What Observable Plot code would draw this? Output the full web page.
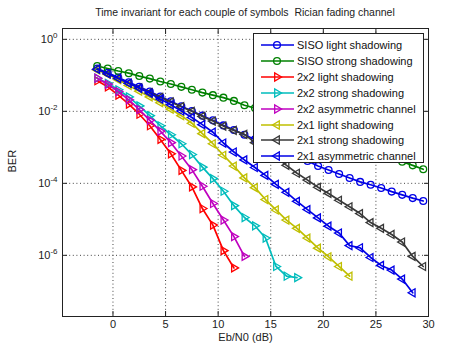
<!DOCTYPE html>
<html><head><meta charset="utf-8">
<script src="https://cdn.jsdelivr.net/npm/d3@7"></script>
<script src="https://cdn.jsdelivr.net/npm/@observablehq/plot@0.6"></script>
<style>
body{margin:0;background:#fff;font-family:"Liberation Sans",Arial,sans-serif;}
#wrap{position:relative;width:474px;height:355px;overflow:hidden;}
#title{position:absolute;top:6px;left:0;width:490px;text-align:center;font-size:10.5px;color:#222;white-space:pre;}
#legend{position:absolute;left:253px;top:33px;width:169px;height:128px;border:1px solid #222;background:#fff;}
.row{position:absolute;left:0;height:16px;width:169px;}
.row svg{position:absolute;left:5px;top:0;}
.row span{position:absolute;left:43px;top:0;line-height:16px;font-size:11px;color:#111;white-space:nowrap;}
</style></head><body>
<div id="wrap"><div id="chart"></div><div id="title">Time invariant for each couple of symbols  Rician fading channel</div><div id="legend"></div></div>
<script>
// Eb/N0 (dB) sample points
const ebn0 = [-1.5,-0.5,0.5,1.5,2.5,3.5,4.5,5.5,6.5,7.5,8.5,9.5,10.5,11.5,12.5,13.5,14.5,15.5,16.5,17.5,18.5,19.5,20.5,21.5,22.5,23.5,24.5,25.5,26.5,27.5,28.5,29.5];

// log10(BER) values per series
const sisoLight   = [-0.81,-0.93,-1.06,-1.19,-1.32,-1.45,-1.59,-1.72,-1.86,-1.99,-2.12,-2.25,-2.39,-2.52,-2.65,-2.78,-2.90,-3.02,-3.14,-3.26,-3.38,-3.52,-3.63,-3.74,-3.85,-3.96,-4.04,-4.13,-4.23,-4.32,-4.41,-4.49];
const sisoStrong  = [-0.74,-0.81,-0.88,-0.94,-1.02,-1.09,-1.17,-1.24,-1.32,-1.40,-1.48,-1.55,-1.62,-1.71,-1.83,-1.91,-2.01,-2.12,-2.22,-2.33,-2.44,-2.54,-2.65,-2.76,-2.86,-2.97,-3.08,-3.18,-3.29,-3.40,-3.50,-3.61];
const mimoLight   = [-1.15,-1.32,-1.55,-1.80,-2.08,-2.40,-2.78,-3.18,-3.64,-4.10,-4.70,-5.16,-5.87,-6.35];
const mimoStrong  = [-1.08,-1.22,-1.40,-1.60,-1.85,-2.12,-2.40,-2.65,-2.90,-3.20,-3.55,-3.87,-4.22,-4.62,-4.95,-5.18,-5.52,-6.31,-6.58,-6.62];
const mimoAsym    = [-1.08,-1.25,-1.45,-1.68,-1.95,-2.25,-2.55,-2.87,-3.24,-3.62,-4.08,-4.56,-5.02,-5.48,-6.03];
const misoLight   = [-0.85,-0.97,-1.12,-1.28,-1.44,-1.60,-1.76,-1.94,-2.12,-2.33,-2.62,-2.90,-3.22,-3.52,-3.85,-4.12,-4.45,-4.74,-5.02,-5.25,-5.52,-5.80,-6.04,-6.31,-6.58];
const misoStrong  = [-0.83,-0.96,-1.09,-1.22,-1.35,-1.48,-1.61,-1.74,-1.87,-2.00,-2.14,-2.27,-2.41,-2.53,-2.64,-2.87,-3.05,-3.28,-3.50,-3.72,-3.91,-4.11,-4.28,-4.47,-4.65,-4.84,-5.09,-5.25,-5.42,-5.63,-6.03,-6.31];
const misoAsym    = [-0.83,-0.95,-1.08,-1.22,-1.36,-1.50,-1.66,-1.82,-1.99,-2.17,-2.37,-2.58,-2.88,-3.13,-3.35,-3.56,-3.78,-4.03,-4.25,-4.50,-4.73,-4.96,-5.19,-5.38,-5.73,-5.79,-6.06,-6.28,-6.41,-6.66,-7.04];

const seriesNames = ["SISO light shadowing","SISO strong shadowing","2x2 light shadowing","2x2 strong shadowing","2x2 asymmetric channel","2x1 light shadowing","2x1 strong shadowing","2x1 asymmetric channel"];
const seriesValues = [sisoLight, sisoStrong, mimoLight, mimoStrong, mimoAsym, misoLight, misoStrong, misoAsym];
const seriesColors = ["#0000e6","#008000","#ff0000","#00bcbc","#bf00bf","#bfbf00","#383838","#0000e6"];
const seriesMarkers = ["circle","circle","right","right","right","left","left","left"];

const xTicks = [0,5,10,15,20,25,30];
const yTicks = [1,1e-2,1e-4,1e-6];
const yTickExp = ["0","-2","-4","-6"];

const triRight = {draw(ctx, size){const R=Math.sqrt(size/Math.PI)*1.15;const h=R*Math.sqrt(3)/2;ctx.moveTo(R,0);ctx.lineTo(-R/2,-h);ctx.lineTo(-R/2,h);ctx.closePath();}};
const triLeft  = {draw(ctx, size){const R=Math.sqrt(size/Math.PI)*1.15;const h=R*Math.sqrt(3)/2;ctx.moveTo(-R,0);ctx.lineTo(R/2,-h);ctx.lineTo(R/2,h);ctx.closePath();}};
const symbolFor = m => m==="circle" ? "circle" : (m==="right" ? triRight : triLeft);

const seriesMarks = [];
seriesNames.forEach((name,i)=>{
  const rows = seriesValues[i].map((v,j)=>({name, x: ebn0[j], ber: Math.pow(10, v)}));
  seriesMarks.push(Plot.line(rows,{x:"x",y:"ber",stroke:seriesColors[i],strokeWidth:1.7}));
  seriesMarks.push(Plot.dot(rows,{x:"x",y:"ber",stroke:seriesColors[i],fill:"none",strokeWidth:1.3,
    r: seriesMarkers[i]==="circle"?3.4:4, symbol: symbolFor(seriesMarkers[i])}));
});

const plot = Plot.plot({
  width:474, height:355,
  marginLeft:62, marginRight:46, marginTop:28, marginBottom:39,
  style:{fontFamily:"Liberation Sans, Arial, sans-serif", fontSize:"11px", color:"#222", background:"transparent"},
  x:{domain:[-4.8,30]},
  y:{type:"log", domain:[2e-8,2]},
  marks:[
    Plot.gridX(xTicks,{stroke:"#444",strokeOpacity:1,strokeDasharray:"1,2.6"}),
    Plot.gridY(yTicks,{stroke:"#444",strokeOpacity:1,strokeDasharray:"1,2.6"}),
    ...seriesMarks,
    Plot.axisX(xTicks,{anchor:"bottom",tickSize:0,tickPadding:4,label:null,tickFormat:d=>String(d)}),
    Plot.axisX(xTicks,{anchor:"bottom",tickSize:-5,tickFormat:()=>"",label:null}),
    Plot.axisX(xTicks,{anchor:"top",tickSize:-5,tickFormat:()=>"",label:null}),
    Plot.axisY(yTicks,{anchor:"left",tickSize:0,tickPadding:5,label:null,tickFormat:(d,i)=>yTickExp[yTicks.indexOf(d)]}),
    Plot.axisY(yTicks,{anchor:"left",tickSize:-5,tickFormat:()=>"",label:null}),
    Plot.axisY(yTicks,{anchor:"right",tickSize:-5,tickFormat:()=>"",label:null}),
    Plot.frame({stroke:"#222",strokeWidth:1}),
    Plot.text(["BER"],{frameAnchor:"left",dx:-50,rotate:-90,fontSize:11}),
    Plot.text(["Eb/N0 (dB)"],{frameAnchor:"bottom",dy:24,fontSize:11})
  ]
});
document.getElementById("chart").appendChild(plot);

// superscript exponents on y tick labels
plot.querySelectorAll('g[aria-label="y-axis tick label"] text').forEach(t=>{
  const e = t.textContent;
  if(!e) return;
  t.textContent = "10";
  const ts = document.createElementNS("http://www.w3.org/2000/svg","tspan");
  ts.setAttribute("dy","-5");
  ts.setAttribute("font-size","8");
  ts.textContent = e;
  t.appendChild(ts);
});

// legend
const leg = document.getElementById("legend");
seriesNames.forEach((name,i)=>{
  const row = document.createElement("div");
  row.className = "row";
  row.style.top = (3 + i*15.9) + "px";
  const c = seriesColors[i], m = seriesMarkers[i];
  let mk;
  if(m==="circle") mk = `<circle cx="18" cy="8" r="3.4" fill="none" stroke="${c}" stroke-width="1.3"/>`;
  else if(m==="right") mk = `<path d="M22.6,8L15.7,4L15.7,12Z" fill="none" stroke="${c}" stroke-width="1.3"/>`;
  else mk = `<path d="M13.4,8L20.3,4L20.3,12Z" fill="none" stroke="${c}" stroke-width="1.3"/>`;
  row.innerHTML = `<svg width="36" height="16"><line x1="2" y1="8" x2="35" y2="8" stroke="${c}" stroke-width="1.7"/>${mk}</svg><span>${name}</span>`;
  leg.appendChild(row);
});
</script>
</body></html>
